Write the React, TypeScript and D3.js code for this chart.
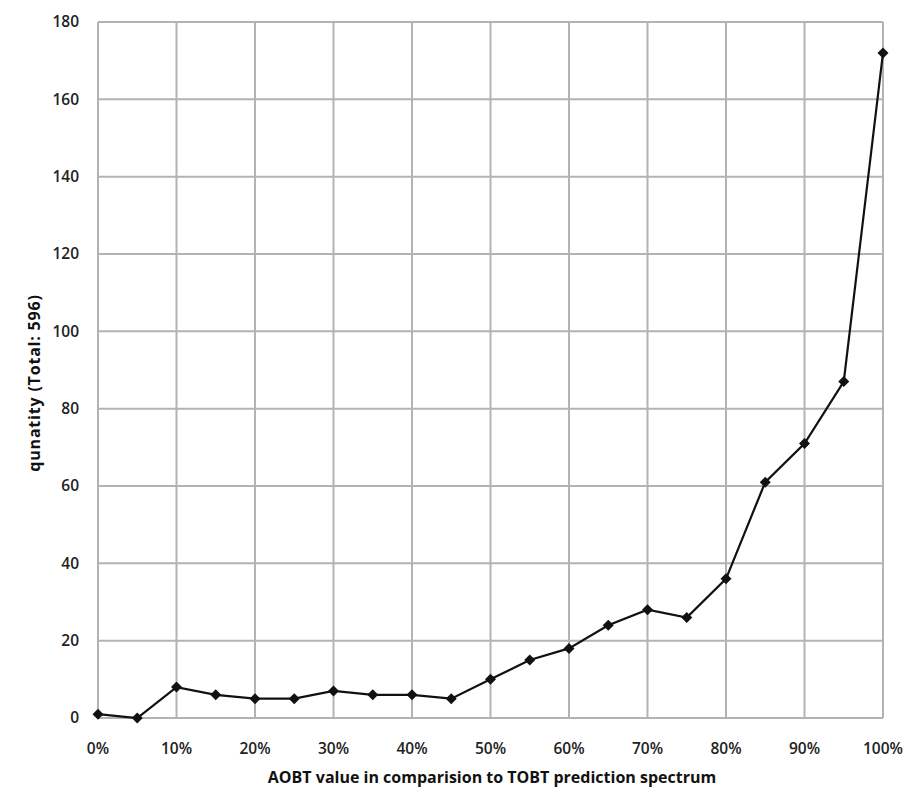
import React from "react";
import * as d3 from "d3";

const percentLabels = ["0%", "5%", "10%", "15%", "20%", "25%", "30%", "35%", "40%", "45%", "50%",
  "55%", "60%", "65%", "70%", "75%", "80%", "85%", "90%", "95%", "100%"];
const percentValues = [0, 5, 10, 15, 20, 25, 30, 35, 40, 45, 50, 55, 60, 65, 70, 75, 80, 85, 90, 95, 100];
const quantities = [1, 0, 8, 6, 5, 5, 7, 6, 6, 5, 10, 15, 18, 24, 28, 26, 36, 61, 71, 87, 172];
const xTicks = [0, 10, 20, 30, 40, 50, 60, 70, 80, 90, 100];
const yTicks = [0, 20, 40, 60, 80, 100, 120, 140, 160, 180];

const W = 913;
const H = 793;
const margin = { top: 22, right: 30, bottom: 75, left: 98 };

export default function App() {
  const x = d3.scaleLinear().domain([0, 100]).range([margin.left, W - margin.right]);
  const y = d3.scaleLinear().domain([0, 180]).range([H - margin.bottom, margin.top]);

  const pts = percentValues.map((p, i) => ({ p, q: quantities[i], label: percentLabels[i] }));
  const line = d3.line<{ p: number; q: number }>().x((d) => x(d.p)).y((d) => y(d.q));
  // square-ish diamond marker
  const r = 5.5;
  const diamond = `M0,${-r}L${r},0L0,${r}L${-r},0Z`;

  const font = "'Open Sans', 'Liberation Sans', sans-serif";

  return (
    <svg width={W} height={H} style={{ position: "absolute", left: 0, top: 0, background: "#fff" }}>
      {/* grid */}
      <g stroke="#b3b3b3" strokeWidth={2}>
        {yTicks.map((t) => (
          <line key={"h" + t} x1={x(0)} x2={x(100)} y1={y(t)} y2={y(t)} />
        ))}
        {xTicks.map((t) => (
          <line key={"v" + t} x1={x(t)} x2={x(t)} y1={y(0)} y2={y(180)} />
        ))}
      </g>

      {/* y tick labels */}
      <g fontFamily={font} fontSize={15.5} fontWeight={600} fill="#222" textAnchor="end">
        {yTicks.map((t) => (
          <text key={"yl" + t} x={x(0) - 19} y={y(t)} dy="0.35em">{t}</text>
        ))}
      </g>

      {/* x tick labels */}
      <g fontFamily={font} fontSize={15.5} fontWeight={600} fill="#222" textAnchor="middle">
        {xTicks.map((t) => (
          <text key={"xl" + t} x={x(t)} y={y(0) + 36}>{t + "%"}</text>
        ))}
      </g>

      {/* series */}
      <path d={line(pts) ?? ""} fill="none" stroke="#111" strokeWidth={2.2} />
      {pts.map((d) => (
        <path key={d.label} d={diamond} transform={`translate(${x(d.p)},${y(d.q)})`} fill="#111" />
      ))}

      {/* axis titles */}
      <text x={492} y={783} textAnchor="middle" fontFamily={font}
        fontSize={16} fontWeight={700} fill="#111">
        AOBT value in comparision to TOBT prediction spectrum
      </text>
      <text transform={`translate(40,383) rotate(-90)`} textAnchor="middle"
        fontFamily={font} fontSize={16} fontWeight={700} fill="#111" letterSpacing={0.8}>
        qunatity (Total: 596)
      </text>
    </svg>
  );
}
